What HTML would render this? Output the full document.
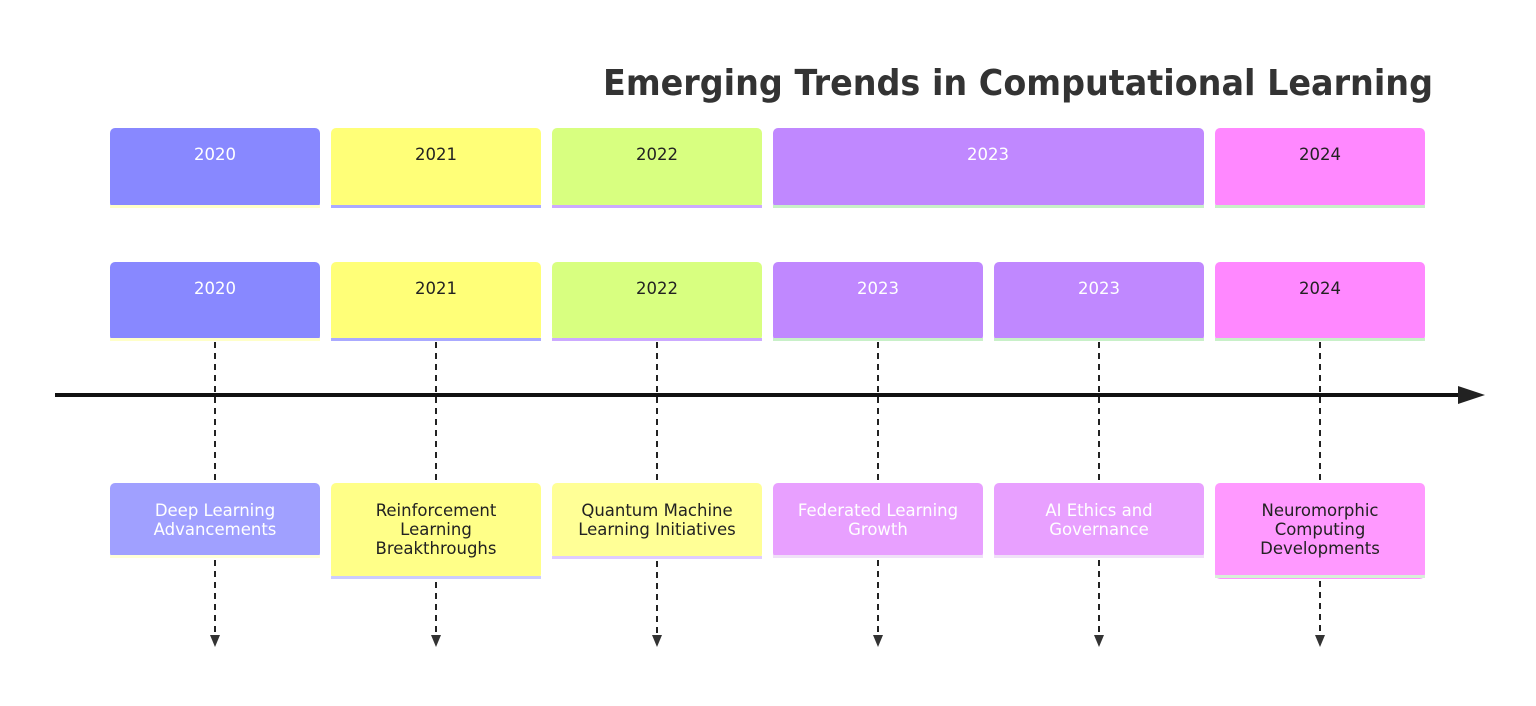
<!DOCTYPE html>
<html><head><style>
body{margin:0;background:#fff;}
svg text{font-family:"DejaVu Sans","Liberation Sans",sans-serif;}
</style></head><body>
<svg width="1536" height="701" xmlns="http://www.w3.org/2000/svg">
<defs>
<marker id="a" markerWidth="12" markerHeight="14" refX="6" refY="10" orient="auto-start-reverse" markerUnits="userSpaceOnUse" viewBox="0 0 12 14"><path d="M1,0 L11,0 L6,13z" fill="#333"/></marker>
</defs>
<text x="603" y="95" textLength="830" lengthAdjust="spacingAndGlyphs" font-size="36" font-weight="bold" fill="#333">Emerging Trends in Computational Learning</text>

<g font-size="16.5" text-anchor="middle">
<rect x="110" y="128" width="210" height="80" rx="5" fill="#8888ff"/><rect x="110" y="205" width="210" height="3" fill="#ffffc8"/><text x="215" y="160" fill="#fff">2020</text>
<rect x="331" y="128" width="210" height="80" rx="5" fill="#ffff78"/><rect x="331" y="205" width="210" height="3" fill="#aaaaff"/><text x="436" y="160" fill="#222">2021</text>
<rect x="552" y="128" width="210" height="80" rx="5" fill="#d8ff80"/><rect x="552" y="205" width="210" height="3" fill="#ccaaff"/><text x="657" y="160" fill="#222">2022</text>
<rect x="773" y="128" width="431" height="80" rx="5" fill="#c088ff"/><rect x="773" y="205" width="431" height="3" fill="#c8f0c8"/><text x="988" y="160" fill="#fff">2023</text>
<rect x="1215" y="128" width="210" height="80" rx="5" fill="#ff88ff"/><rect x="1215" y="205" width="210" height="3" fill="#c8f0c8"/><text x="1320" y="160" fill="#222">2024</text>

<rect x="110" y="262" width="210" height="79" rx="5" fill="#8888ff"/><rect x="110" y="338" width="210" height="3" fill="#ffffc8"/><text x="215" y="294" fill="#fff">2020</text>
<rect x="331" y="262" width="210" height="79" rx="5" fill="#ffff78"/><rect x="331" y="338" width="210" height="3" fill="#aaaaff"/><text x="436" y="294" fill="#222">2021</text>
<rect x="552" y="262" width="210" height="79" rx="5" fill="#d8ff80"/><rect x="552" y="338" width="210" height="3" fill="#ccaaff"/><text x="657" y="294" fill="#222">2022</text>
<rect x="773" y="262" width="210" height="79" rx="5" fill="#c088ff"/><rect x="773" y="338" width="210" height="3" fill="#c8f0c8"/><text x="878" y="294" fill="#fff">2023</text>
<rect x="994" y="262" width="210" height="79" rx="5" fill="#c088ff"/><rect x="994" y="338" width="210" height="3" fill="#c8f0c8"/><text x="1099" y="294" fill="#fff">2023</text>
<rect x="1215" y="262" width="210" height="79" rx="5" fill="#ff88ff"/><rect x="1215" y="338" width="210" height="3" fill="#c8f0c8"/><text x="1320" y="294" fill="#222">2024</text>
</g>

<g stroke="#222" stroke-width="2" stroke-dasharray="6,5">
<line x1="215" y1="342" x2="215" y2="480"/><line x1="436" y1="342" x2="436" y2="480"/><line x1="657" y1="342" x2="657" y2="480"/><line x1="878" y1="342" x2="878" y2="480"/><line x1="1099" y1="342" x2="1099" y2="480"/><line x1="1320" y1="342" x2="1320" y2="480"/>
<line x1="215" y1="560" x2="215" y2="636"/><line x1="436" y1="582" x2="436" y2="636"/><line x1="657" y1="561" x2="657" y2="636"/><line x1="878" y1="560" x2="878" y2="636"/><line x1="1099" y1="560" x2="1099" y2="636"/><line x1="1320" y1="581" x2="1320" y2="636"/>
</g>
<g fill="#333">
<path d="M210,635 L220,635 L215,647z"/><path d="M431,635 L441,635 L436,647z"/><path d="M652,635 L662,635 L657,647z"/><path d="M873,635 L883,635 L878,647z"/><path d="M1094,635 L1104,635 L1099,647z"/><path d="M1315,635 L1325,635 L1320,647z"/>
</g>

<line x1="55" y1="395" x2="1462" y2="395" stroke="#111" stroke-width="4"/>
<path d="M1458,386 L1485,395 L1458,404z" fill="#222"/>

<g font-size="16.5" text-anchor="middle">
<rect x="110" y="483" width="210" height="75" rx="5" fill="#a0a0ff"/><rect x="110" y="555" width="210" height="3" fill="#ffffd8"/>
<text x="215" y="516" fill="#fff">Deep Learning</text><text x="215" y="535" fill="#fff">Advancements</text>
<rect x="331" y="483" width="210" height="96" rx="5" fill="#ffff88"/><rect x="331" y="576" width="210" height="3" fill="#ccccff"/>
<text x="436" y="516" fill="#222">Reinforcement</text><text x="436" y="535" fill="#222">Learning</text><text x="436" y="554" fill="#222">Breakthroughs</text>
<rect x="552" y="483" width="210" height="76" rx="5" fill="#ffff96"/><rect x="552" y="556" width="210" height="3" fill="#e0ccff"/>
<text x="657" y="516" fill="#222">Quantum Machine</text><text x="657" y="535" fill="#222">Learning Initiatives</text>
<rect x="773" y="483" width="210" height="75" rx="5" fill="#e8a0ff"/><rect x="773" y="555" width="210" height="3" fill="#f0e0f8"/>
<text x="878" y="516" fill="#fff">Federated Learning</text><text x="878" y="535" fill="#fff">Growth</text>
<rect x="994" y="483" width="210" height="75" rx="5" fill="#e8a0ff"/><rect x="994" y="555" width="210" height="3" fill="#f0e0f8"/>
<text x="1099" y="516" fill="#fff">AI Ethics and</text><text x="1099" y="535" fill="#fff">Governance</text>
<rect x="1215" y="483" width="210" height="96" rx="5" fill="#ff99ff"/><rect x="1215" y="575" width="210" height="3" fill="#d8f0d8"/>
<text x="1320" y="516" fill="#222">Neuromorphic</text><text x="1320" y="535" fill="#222">Computing</text><text x="1320" y="554" fill="#222">Developments</text>
</g>
</svg>
</body></html>
